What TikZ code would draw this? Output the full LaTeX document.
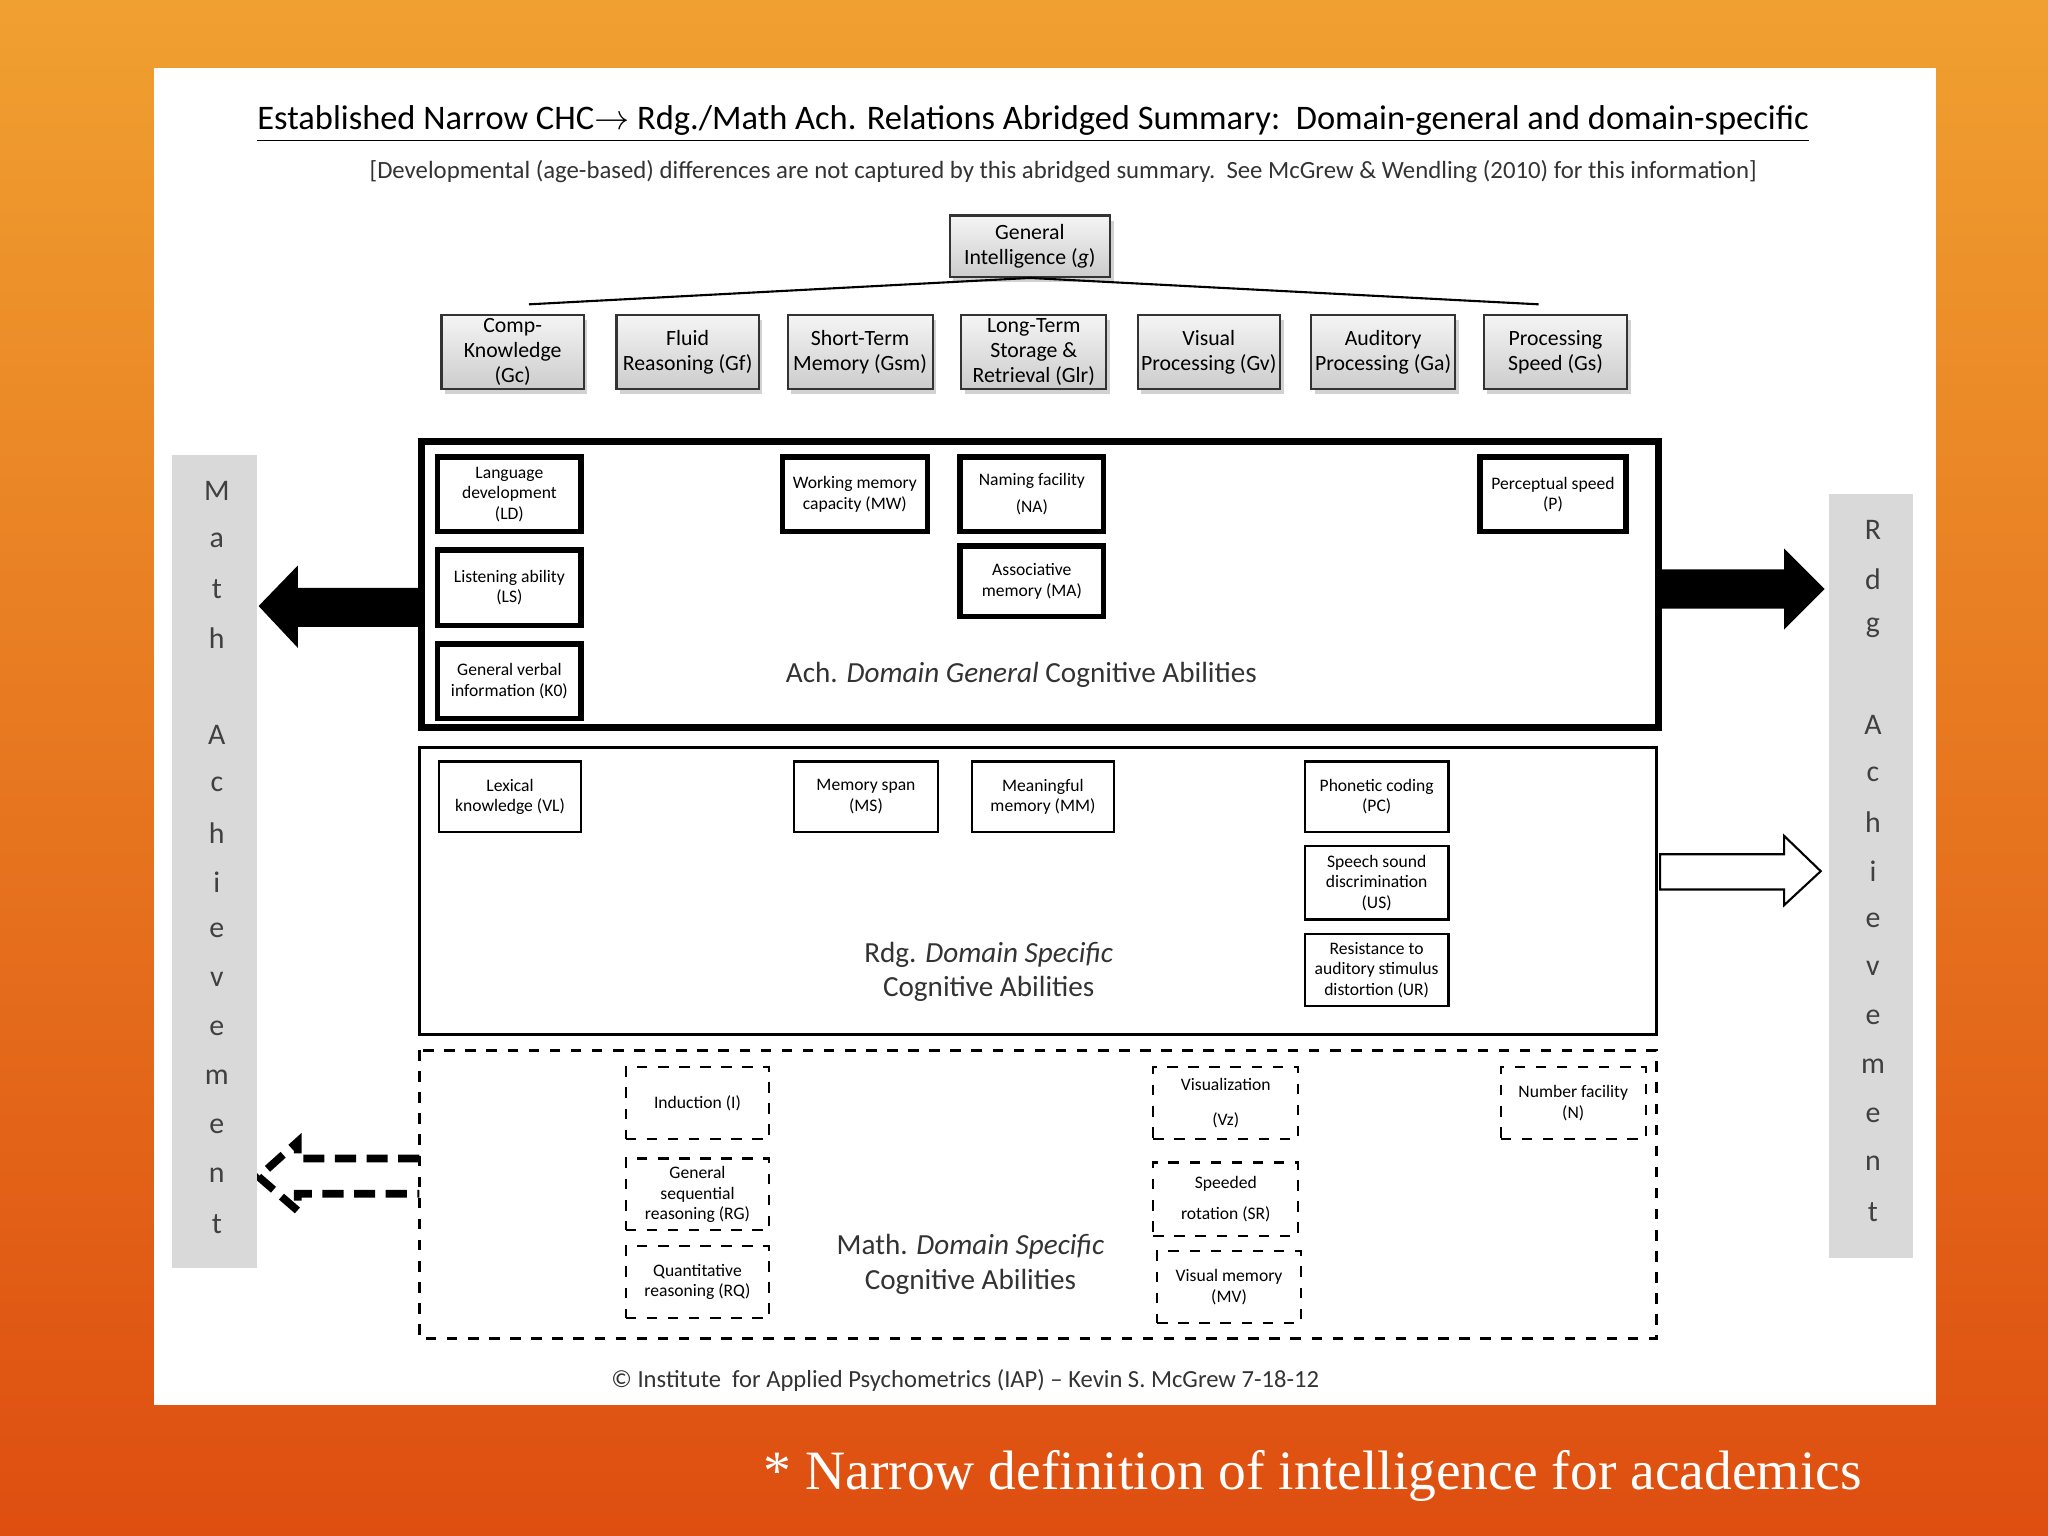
\documentclass[tikz,border=0pt]{standalone}
\usepackage{fontspec}
\setmainfont{Carlito}
\newfontfamily\serifx{Liberation Serif}
\usetikzlibrary{shadows}
\def\ux{0.013061cm}
\newcommand\bx[7]{\node[#6, minimum width={(#4-#2)*\ux}, minimum height={(#5-#3)*\ux}] (#1) at ({(#2+#4)/2},{(#3+#5)/2}) {#7};}
\tikzset{
 broad/.style={draw=black!80, top color=gray!8, bottom color=gray!40, drop shadow={opacity=0.35,shadow xshift=1pt,shadow yshift=-1.5pt}, align=center, inner sep=0pt, font=\fontsize{6.2}{7.2}\selectfont, line width=0.6pt},
 gen/.style={draw, line width=1.6pt, fill=white, align=center, inner sep=0pt, font=\fontsize{5}{5.8}\selectfont},
 rdg/.style={draw, line width=0.6pt, fill=white, align=center, inner sep=0pt, font=\fontsize{5}{5.8}\selectfont},
 mth/.style={draw, dashed, line width=0.6pt, fill=white, align=center, inner sep=0pt, font=\fontsize{5}{5.8}\selectfont},
 lbl/.style={align=center, font=\fontsize{8.3}{9.8}\selectfont, text=black!80},
 letter/.style={font=\fontsize{8.5}{9}\selectfont, text=black!75}
}
\begin{document}
\begin{tikzpicture}[x=\ux,y=-\ux]
\shade[top color={rgb,255:red,240;green,160;blue,48}, bottom color={rgb,255:red,222;green,78;blue,16}] (0,0) rectangle (1568,1176);
\fill[white] (118,52) rectangle (1482,1076);
% title
\node (title) at (791,95) {\fontsize{9.8}{11}\selectfont\underline{Established Narrow CHC$\rightarrow$ Rdg./Math Ach. Relations Abridged Summary:\ \ Domain-general and domain-specific}};
\node[text=black!80] (sub) at (814,131) {\fontsize{7.05}{8}\selectfont [Developmental (age-based) differences are not captured by this abridged summary.\ \ See McGrew \& Wendling (2010) for this information]};
% g
\bx{g}{727}{165}{850}{212}{broad}{General\\Intelligence (\textit{g})}
\coordinate (gl) at (405,233); \coordinate (gr) at (1178,233);
\draw[line width=0.6pt] (g.south) -- (gl); \draw[line width=0.6pt] (g.south) -- (gr);
\bx{gc}{338}{241}{447}{298}{broad}{Comp-\\Knowledge\\(Gc)}
\bx{gf}{472}{241}{581}{298}{broad}{Fluid\\Reasoning (Gf)}
\bx{gsm}{603}{241}{714}{298}{broad}{Short-Term\\Memory (Gsm)}
\bx{glr}{736}{241}{847}{298}{broad}{Long-Term\\Storage \&\\Retrieval (Glr)}
\bx{gv}{871}{241}{980}{298}{broad}{Visual\\Processing (Gv)}
\bx{ga}{1004}{241}{1114}{298}{broad}{Auditory\\Processing (Ga)}
\bx{gs}{1136}{241}{1246}{298}{broad}{Processing\\Speed (Gs)}
% domain general
\draw[line width=2pt] (323,338) rectangle (1270,557);
\bx{ld}{335}{350}{445}{407}{gen}{Language\\development\\(LD)}
\bx{ls}{335}{421}{445}{479}{gen}{Listening ability\\(LS)}
\bx{k0}{335}{493}{445}{550}{gen}{General verbal\\information (K0)}
\bx{mw}{599}{350}{710}{407}{gen}{Working memory\\capacity (MW)}
\bx{na}{735}{350}{845}{407}{gen}{Naming facility\\[2pt](NA)}
\bx{ma}{735}{418}{845}{472}{gen}{Associative\\memory (MA)}
\bx{p}{1133}{350}{1245}{407}{gen}{Perceptual speed\\(P)}
\node[lbl] (achl) at (782,517) {Ach. \textit{Domain General} Cognitive Abilities};
% rdg
\draw[line width=0.8pt] (321,572) rectangle (1268,792);
\bx{vl}{336}{583}{445}{637}{rdg}{Lexical\\knowledge (VL)}
\bx{ms}{608}{583}{718}{637}{rdg}{Memory span\\(MS)}
\bx{mm}{744}{583}{853}{637}{rdg}{Meaningful\\memory (MM)}
\bx{pc}{999}{583}{1109}{637}{rdg}{Phonetic coding\\(PC)}
\bx{us}{999}{648}{1109}{704}{rdg}{Speech sound\\discrimination\\(US)}
\bx{ur}{999}{715}{1109}{770}{rdg}{Resistance to\\auditory stimulus\\distortion (UR)}
\node[lbl] (rdgl) at (757,744) {Rdg. \textit{Domain Specific}\\Cognitive Abilities};
% math
\draw[line width=0.8pt, dashed] (321,804) rectangle (1268,1025);
\bx{ii}{479}{817}{589}{872}{mth}{Induction (I)}
\bx{rg}{479}{887}{589}{942}{mth}{General\\sequential\\reasoning (RG)}
\bx{rq}{479}{954}{589}{1009}{mth}{Quantitative\\reasoning (RQ)}
\bx{vz}{883}{817}{994}{872}{mth}{Visualization\\[4pt](Vz)}
\bx{sr}{883}{890}{994}{946}{mth}{Speeded\\[3pt]rotation (SR)}
\bx{mv}{886}{958}{996}{1013}{mth}{Visual memory\\(MV)}
\bx{nn}{1149}{817}{1260}{872}{mth}{Number facility\\(N)}
\node[lbl] (mathl) at (743,968) {Math. \textit{Domain Specific}\\Cognitive Abilities};
% arrows
\fill[black] (323,450) -- (228,450) -- (228,433) -- (198,464) -- (228,496) -- (228,480) -- (323,480) -- cycle;
\fill[black] (1270,436) -- (1366,436) -- (1366,420) -- (1397,451) -- (1366,482) -- (1366,466) -- (1270,466) -- cycle;
\draw[line width=0.6pt, fill=white] (1271,654) -- (1366,654) -- (1366,640) -- (1394,667) -- (1366,693) -- (1366,681) -- (1271,681) -- cycle;
\draw[line width=2.2pt, dashed, dash pattern=on 6pt off 3pt] (321,887) -- (228,887) -- (228,874) -- (198,901) -- (228,927) -- (228,914) -- (321,914);
% side bars
\fill[gray!30] (132,348) rectangle (197,971);
\fill[gray!30] (1400,378) rectangle (1465,963);
\foreach \c [count=\i from 0] in {M,a,t,h,{},A,c,h,i,e,v,e,m,e,n,t}
  \node[letter] (ml\i) at (166,{376+\i*37.4}) {\c};
\foreach \c [count=\i from 0] in {R,d,g,{},A,c,h,i,e,v,e,m,e,n,t}
  \node[letter] (rl\i) at (1434,{406+\i*37.3}) {\c};
\node[text=black!80] (copy) at (739,1057) {\fontsize{7}{8}\selectfont \textcopyright\ Institute\ \ for Applied Psychometrics (IAP) -- Kevin S. McGrew 7-18-12};
\node[white] (foot) at (1005,1130) {\serifx\fontsize{15.8}{17}\selectfont * Narrow definition of intelligence for academics};
\end{tikzpicture}
\end{document}
